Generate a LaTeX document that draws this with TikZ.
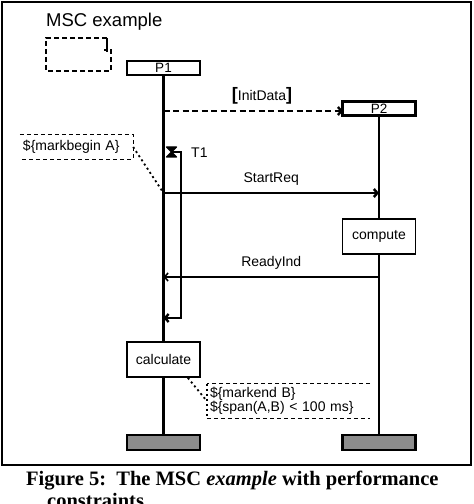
\documentclass[tikz,border=0pt]{standalone}
\usepackage{fontspec}
\setmainfont{Liberation Serif}
\setsansfont{Liberation Sans}
\usetikzlibrary{arrows.meta,positioning}
\definecolor{stopgray}{gray}{0.55}

\begin{document}
\begin{tikzpicture}[x=1bp, y=-1bp,
    font=\sffamily\fontsize{14bp}{14bp}\selectfont,
    inst/.style = {draw, line width=2.2bp, minimum width=73bp, minimum height=14bp, inner sep=0pt, font=\sffamily\fontsize{13.5bp}{13.5bp}\selectfont},
    stopbox/.style = {draw, line width=2.2bp, fill=stopgray, minimum width=73bp, minimum height=15bp, inner sep=0pt},
    act/.style = {draw, line width=1.8bp, minimum width=73bp, minimum height=35bp, inner sep=0pt},
    msg/.style = {-{Straight Barb[length=3.5bp,width=8bp]}},
    cmt/.style = {line width=1.2bp, dash pattern=on 4bp off 3bp},
    cmtlink/.style = {line width=1.8bp, dash pattern=on 2bp off 3bp}]
    \useasboundingbox (0,0) rectangle (474,504);
    % frame and title
    \draw[line width=1.6bp] (2,2) rectangle (471,465);
    \node[anchor=base west, inner sep=0pt] (title) at (46,27) {\fontsize{18.5bp}{18.5bp}\selectfont MSC example};
    \draw[line width=2bp, dash pattern=on 5bp off 3bp] (107,38) -- (46,38) -- (46,71) -- (111,71) -- (111,50) -- (104,50);
    \draw[line width=2bp] (107,38) -- (107,52);

    % instances
    \node[inst] (p1) at (163.5,68) {\raisebox{-1.5bp}{P1}};
    \node[inst] (p2) at (379,108.5) {\raisebox{-1.5bp}{P2}};
    \node[act] (calc) at (163.5,359.5) {calculate};
    \node[act] (comp) at (379,236.5) {compute};
    \node[stopbox] (p1end) at (163.5,442.5) {};
    \node[stopbox] (p2end) at (379,442.5) {};
    \draw[line width=2.8bp] (p1) -- (calc);
    \draw[line width=2.8bp] (calc) -- (p1end);
    \draw[line width=1.8bp] (p2) -- (comp);
    \draw[line width=1.8bp] (comp) -- (p2end);

    % InitData
    \coordinate (init1) at (163.5,111);
    \coordinate (init2) at (343,111);
    \draw[msg, line width=2.4bp, dash pattern=on 6bp off 3.5bp] (init1) -- (init2);
    \node (initlbl) at (262,96) {{\bfseries\fontsize{18bp}{18bp}\selectfont[}InitData{\bfseries\fontsize{18bp}{18bp}\selectfont]}};

    % timer T1
    \coordinate (tset) at (171.5,152);
    \coordinate (tcorner) at (181,318);
    \coordinate (tout) at (163.5,318);
    \filldraw[line width=1.2bp, line join=round] (166.5,147) -- (176.5,147) -- (171.5,152) -- (176.5,157) -- (166.5,157) -- (171.5,152) -- cycle;
    \draw[msg, line width=2.4bp] (tset) -| (tcorner) -- (tout);
    \node[anchor=west, inner sep=0pt] (t1) at (191,153) {T1};

    % messages
    \coordinate (sreq1) at (163.5,193);
    \coordinate (sreq2) at (379,193);
    \draw[msg, line width=2.5bp] (sreq1) -- (sreq2) node[midway, above=3bp] (sreqlbl) {StartReq};
    \coordinate (rind1) at (379,277);
    \coordinate (rind2) at (163.5,277);
    \draw[msg, line width=1.6bp] (rind1) -- (rind2) node[midway, above=3bp] (rindlbl) {ReadyInd};

    % comments
    \node[text width=107bp, align=left, inner xsep=3bp, minimum height=24bp] (markA) at (76.5,147) {\$\{markbegin A\}};
    \draw[cmt] (markA.north west) -- (markA.north east) -- (markA.south east) -- (markA.south west);
    \draw[cmtlink] (markA.east) -- (sreq1);
    \node[text width=157bp, align=left, inner xsep=3bp, minimum height=34bp] (markB) at (288.5,401) {\$\{markend B\}\\\$\{span(A,B) < 100 ms\}};
    \draw[cmt] (markB.north east) -- (markB.north west);
    \draw[cmt] (markB.south west) -- (markB.south east);
    \draw[cmtlink] (markB.north west) -- (markB.south west);
    \draw[cmtlink] ([xshift=-13bp]calc.south east) -- (markB.west);

    % caption
    \node[anchor=base west, inner sep=0pt, font=\rmfamily\bfseries\fontsize{20.5bp}{20.5bp}\selectfont] (cap) at (26,485) {Figure 5:\ \ The MSC \textit{example} with performance};
    \node[anchor=base west, inner sep=0pt, font=\rmfamily\bfseries\fontsize{20.5bp}{20.5bp}\selectfont] (cap2) at (47,507) {constraints};
\end{tikzpicture}
\end{document}
